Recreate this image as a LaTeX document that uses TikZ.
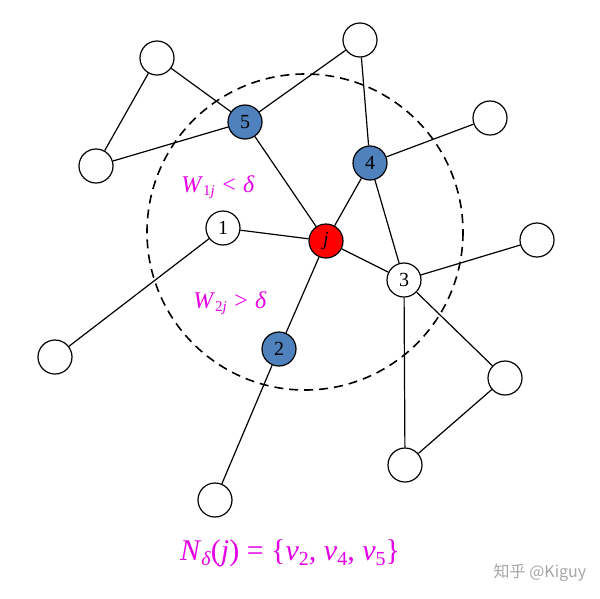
\documentclass[tikz,border=0pt]{standalone}
\usepackage{fontspec}
\setmainfont{Liberation Serif}
\newfontfamily\cjk{Noto Sans CJK SC}
\begin{document}
\begin{tikzpicture}[x=1pt,y=-1pt,
  vtx/.style={circle,draw,line width=1.2pt,minimum size=34pt,inner sep=0pt,fill=white,font=\fontsize{20}{20}\selectfont},
  blue/.style={vtx,fill={rgb,255:red,79;green,129;blue,189}},
  edge/.style={line width=1.2pt},
  lab/.style={text={rgb,255:red,230;green,0;blue,230},font=\fontsize{24}{24}\selectfont}]
\useasboundingbox (0,0) rectangle (600,598);
\draw[line width=1.6pt,dash pattern=on 9pt off 6pt] (305,232) circle[radius=158];
\node[vtx,fill=red] (j) at (326,241) {\itshape j};
\node[vtx] (n1) at (223,228) {1};
\node[blue] (n5) at (245,122) {5};
\node[blue] (n4) at (370,163) {4};
\node[vtx] (n3) at (404,280) {3};
\node[blue] (n2) at (279,349) {2};
\node[vtx] (tl) at (157,58) {};
\node[vtx] (l) at (96,166) {};
\node[vtx] (t) at (360,40) {};
\node[vtx] (rt) at (490,118) {};
\node[vtx] (r) at (537,240) {};
\node[vtx] (rb) at (505,378) {};
\node[vtx] (br) at (405,465) {};
\node[vtx] (b) at (215,500) {};
\node[vtx] (lb) at (55,357) {};
\foreach \a/\b in {tl/n5,tl/l,l/n5,n5/t,t/n4,n4/rt,n5/j,n4/j,n4/n3,j/n3,j/n1,n1/lb,j/n2,n2/b,n3/r,n3/rb,n3/br,rb/br}
  \draw[edge] (\a) -- (\b);
\node[lab] (w1) at (218,187) {\textit{W}\raisebox{-0.3ex}{\fontsize{15}{15}\selectfont 1\textit{j}} \textit{<} \textit{δ}};
\node[lab] (w2) at (230,303) {\textit{W}\raisebox{-0.3ex}{\fontsize{15}{15}\selectfont 2\textit{j}} \textit{>} \textit{δ}};
\node[lab,font=\fontsize{30}{30}\selectfont] (f) at (290,553) {\textit{N}\raisebox{-0.4ex}{\fontsize{20}{20}\selectfont\textit{δ}}(\textit{j}) = \{\textit{v}\raisebox{-0.4ex}{\fontsize{20}{20}\selectfont 2}, \textit{v}\raisebox{-0.4ex}{\fontsize{20}{20}\selectfont 4}, \textit{v}\raisebox{-0.4ex}{\fontsize{20}{20}\selectfont 5}\}};
\node[text=gray!70,font=\cjk\fontsize{16}{16}\selectfont] (wm) at (540,573) {知乎 @Kiguy};
\end{tikzpicture}
\end{document}
